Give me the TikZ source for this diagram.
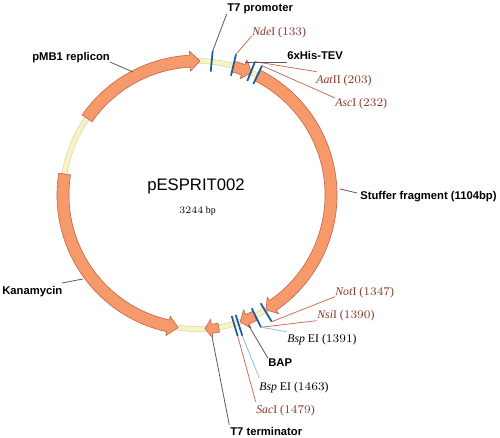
\documentclass[tikz,border=0pt]{standalone}
\usepackage{fontspec}
\newfontfamily\featfont{Liberation Sans}
\newfontfamily\sitefont{Liberation Serif}
\newcommand{\sitenum}[1]{{\rmfamily\oldstylenums{#1}}}
\definecolor{genefill}{HTML}{F69A6C}
\definecolor{genedraw}{HTML}{C4654A}
\definecolor{backfill}{HTML}{F6F3C4}
\definecolor{backdraw}{HTML}{DAD6A0}
\definecolor{tickblue}{HTML}{1F5C9E}
\definecolor{sitered}{HTML}{8E3327}
\definecolor{leadred}{HTML}{C96F55}
\definecolor{leadblue}{HTML}{8FBDE0}
\begin{document}
\begin{tikzpicture}[x=0.02cm,y=0.02cm,
  gene/.style={draw=genedraw,fill=genefill,line width=0.35pt,line join=round},
  tickmark/.style={draw=tickblue,line width=1pt},
  lead/.style={draw=black!65,line width=0.45pt},
  leadr/.style={draw=leadred,line width=0.45pt},
  leadb/.style={draw=leadblue,line width=0.45pt},
  feat/.style={font=\featfont\bfseries\fontsize{6.4}{7.6}\selectfont,inner sep=0pt},
  site/.style={font=\sitefont\fontsize{6.7}{8}\selectfont,text=sitered,inner sep=0pt,anchor=west},
  sitek/.style={font=\sitefont\fontsize{6.7}{8}\selectfont,inner sep=0pt,anchor=west}]
 \useasboundingbox (0,0) rectangle (500,438);
 % Backbone and genes (angles round the centre)
 \begin{scope}[shift={(197,243)}]
  \draw[draw=backdraw,fill=backfill,line width=0.3pt,even odd rule]
    (0,0) circle[radius=136.5] (0,0) circle[radius=131.5];
  \foreach \tail/\base/\tip/\ri/\ro/\rl/\rh in {
    145.1/93/88.7/128/140/124/144,
    171/257.5/261.9/128/140/124/144,
    62.9/-55.5/-59/128/140/124/144,
    74.3/69.7/65.9/128/139/124/144,
    -64.2/-67.9/-71.2/129/139/124/144,
    -80.7/-83.7/-86.6/130/139/125/144}
   \draw[gene] (\tail:\ro) arc[start angle=\tail,end angle=\base,radius=\ro]
     -- (\base:\rh) -- (\tip:134) -- (\base:\rl) -- (\base:\ri)
     arc[start angle=\base,end angle=\tail,radius=\ri] -- cycle;
 \end{scope}
 % Site marks
 \coordinate (t7a) at (212.7,387); \coordinate (t7b) at (210.7,366.3);
 \coordinate (ndea) at (236,383.7); \coordinate (ndeb) at (231,362.3);
 \coordinate (aata) at (255,376.3); \coordinate (aatb) at (247.3,357);
 \coordinate (asca) at (262,372.3); \coordinate (ascb) at (253.3,354);
 \coordinate (nota) at (260.7,134.7); \coordinate (notb) at (271.7,116.3);
 \coordinate (nsia) at (251.7,129.7); \coordinate (nsib) at (261,110.7);
 \coordinate (saca) at (231.7,122); \coordinate (sacb) at (237.7,102);
 \coordinate (bspa) at (235.7,123); \coordinate (bspb) at (242.3,102.3);
 \foreach \p in {t7,nde,aat,asc,not,nsi,sac,bsp}
  \draw[tickmark] (\p a) -- (\p b);
 % Title
 \node[font=\featfont\fontsize{9.5}{11}\selectfont,inner sep=0pt] (title) at (196,251.5) {pESPRIT002};
 \node[font=\sitefont\fontsize{5.6}{7}\selectfont,inner sep=0pt] (size) at (197.5,227) {\sitenum{3244} bp};
 % Feature labels
 \node[feat,anchor=west] (t7p) at (227,429.5) {T7 promoter};
 \node[feat,anchor=west] (his) at (287,382.5) {6xHis-TEV};
 \node[feat,anchor=west] (stuff) at (360,241.5) {Stuffer fragment (1104bp)};
 \node[feat,anchor=west] (bap) at (268,75.5) {BAP};
 \node[feat,anchor=west] (t7t) at (230,7) {T7 terminator};
 \node[feat,anchor=west] (pmb) at (32,380.5) {pMB1 replicon};
 \node[feat,anchor=west] (kan) at (2,146.5) {Kanamycin};
 % Restriction sites
 \node[site] (nde) at (252,405.5) {\textit{Nde}I (\sitenum{133})};
 \node[site] (aat) at (316,357.5) {\textit{Aat}II (\sitenum{203})};
 \node[site] (asc) at (335,334.5) {\textit{Asc}I (\sitenum{232})};
 \node[site] (not) at (335,145.5) {\textit{Not}I (\sitenum{1347})};
 \node[site] (nsi) at (317,122.5) {\textit{Nsi}I (\sitenum{1390})};
 \node[sitek] (bspx) at (287,98.5) {\textit{Bsp} EI (\sitenum{1391})};
 \node[sitek] (bspy) at (259,50.5) {\textit{Bsp} EI (\sitenum{1463})};
 \node[site] (sac) at (256,27.5) {\textit{Sac}I (\sitenum{1479})};
 % Leaders
 \coordinate (t7ps) at (226.7,424);
 \coordinate (hiss) at (286.7,376);
 \coordinate (hise) at (245,376);
 \coordinate (stuffs) at (357,245);
 \coordinate (stuffe) at (340,249);
 \coordinate (bape) at (248.3,113);
 \coordinate (t7ts) at (229.3,13);
 \coordinate (t7te) at (212.3,99.7);
 \coordinate (pmbe) at (133,366);
 \coordinate (pmbs) at (110,376);
 \coordinate (kane) at (83,159);
 \coordinate (kans) at (62,155);
 \coordinate (ndee) at (251.7,402);
 \coordinate (aate) at (316.7,366.3);
 \coordinate (asce) at (335,340);
 \coordinate (note) at (335,141.3);
 \coordinate (nsie) at (316.7,117.3);
 \coordinate (bspxe) at (286.7,106.3);
 \coordinate (bspye) at (259.3,60);
 \coordinate (sace) at (255.7,36.3);
 \draw[lead] (t7ps) -- (t7a);
 \draw[leadr] (aate) -- (aata);
 \draw[lead] (hiss) -- (hise);
 \draw[lead] (stuffe) -- (stuffs);
 \draw[lead] (bap.north west) -- (bape);
 \draw[lead] (t7ts) -- (t7te);
 \draw[lead] (pmbs) -- (pmbe);
 \draw[lead] (kans) -- (kane);
 \draw[leadr] (ndee) -- (ndea);
 \draw[leadr] (asce) -- (asca);
 \draw[leadr] (note) -- (notb);
 \draw[leadr] (nsie) -- (nsib);
 \draw[leadb] (bspxe) -- (nsib);
 \draw[leadb] (bspye) -- (bspb);
 \draw[leadr] (sace) -- (sacb);
\end{tikzpicture}
\end{document}
